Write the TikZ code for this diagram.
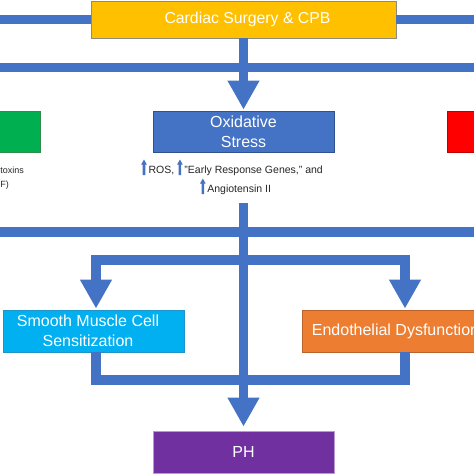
\documentclass[tikz,border=0pt]{standalone}
\usepackage{fontspec}
\setmainfont{Liberation Sans}
\usetikzlibrary{arrows.meta}
\definecolor{flow}{HTML}{4472C4}
\definecolor{cpbfill}{HTML}{FFC000}
\definecolor{cpbdraw}{HTML}{8C8C7A}
\definecolor{oxdraw}{HTML}{2F528F}
\definecolor{smcfill}{HTML}{00B0F0}
\definecolor{smcdraw}{HTML}{1E94C8}
\definecolor{endofill}{HTML}{ED7D31}
\definecolor{endodraw}{HTML}{B9622A}
\definecolor{phfill}{HTML}{7030A0}
\definecolor{phdraw}{HTML}{B89AD0}
\definecolor{gfill}{HTML}{00B050}
\definecolor{gdraw}{HTML}{2E8B4A}
\definecolor{rfill}{HTML}{FF0000}
\definecolor{rdraw}{HTML}{C00000}
\definecolor{smalltext}{HTML}{262626}
\newcommand{\uparw}{\tikz[x=1pt,y=1pt,baseline=0pt]{\fill[flow] (-1.3,-2) -- (1.3,-2) -- (1.3,8.5) -- (2.8,8.5) -- (0,13.5) -- (-2.8,8.5) -- (-1.3,8.5) -- cycle;}}
\begin{document}
\begin{tikzpicture}[x=1pt,y=-1pt,
  box/.style={draw, line width=0.8pt, text=white, align=center, inner sep=0pt},
  flowline/.style={draw=flow, line width=9.5pt, line join=miter},
  headarr/.style={-{Triangle[width=30pt,length=29pt]}},
  note/.style={text=smalltext, inner sep=0pt}]
\useasboundingbox (0,0) rectangle (474,474);
\clip (0,0) rectangle (474,474);
\fill[white] (0,0) rectangle (474,474);

% nodes
\node[box, fill=cpbfill, draw=cpbdraw, minimum width=305pt, minimum height=37pt,
      font=\fontsize{15.8}{18}\selectfont] (cpb) at (243.5,19.5) {\hspace*{8pt}Cardiac Surgery \& CPB};
\node[box, fill=flow, draw=oxdraw, minimum width=181pt, minimum height=41pt,
      font=\fontsize{16}{20}\selectfont] (ox) at (243.5,131.5) {Oxidative\\Stress};
\node[box, fill=gfill, draw=gdraw, minimum width=90pt, minimum height=41pt] (green) at (-5,131.5) {};
\node[box, fill=rfill, draw=rdraw, minimum width=90pt, minimum height=41pt] (red) at (492,131.5) {};
\node[box, fill=smcfill, draw=smcdraw, minimum width=181pt, minimum height=42pt,
      font=\fontsize{16}{20}\selectfont] (smc) at (93.5,331) {Smooth Muscle Cell\hspace*{11pt}\\Sensitization\hspace*{11pt}};
\node[box, fill=endofill, draw=endodraw, minimum width=187pt, minimum height=42pt,
      font=\fontsize{16}{19}\selectfont] (endo) at (395.5,331) {Endothelial Dysfunction};
\node[box, fill=phfill, draw=phdraw, minimum width=181pt, minimum height=42pt,
      font=\fontsize{16}{19}\selectfont] (ph) at (243.5,452) {PH};

% small texts
\node[note, anchor=base east, font=\fontsize{9}{11}\selectfont] (lt1) at (24,173) {otoxins};
\node[note, anchor=base east, font=\fontsize{9}{11}\selectfont] (lt2) at (9,187) {F)};
\node[note, anchor=base, font=\fontsize{10.5}{13}\selectfont] (ct1) at (232,173) {\uparw\,ROS, \uparw\,"Early Response Genes," and};
\node[note, anchor=base, font=\fontsize{10.5}{13}\selectfont] (ct2) at (235.5,192) {\uparw\,Angiotensin II};

% free ends
\coordinate (l1w) at (-5,19.5);
\coordinate (l1e) at (479,19.5);
\coordinate (l2w) at (-5,67.5);
\coordinate (l2e) at (479,67.5);
\coordinate (l3w) at (-5,232);
\coordinate (l3e) at (479,232);
\coordinate (c2) at (243.5,203);
\coordinate (hub) at (243.5,260);
\coordinate (bl) at (96,260);
\coordinate (br) at (405,260);
\coordinate (ml) at (96,380);
\coordinate (mr) at (405,380);

% connectors
\draw[flowline] (l1w) -- (cpb.west);
\draw[flowline] (cpb.east) -- (l1e);
\draw[flowline] (l2w) -- (l2e);
\draw[flowline] (l3w) -- (l3e);
\draw[flowline, headarr] (cpb.south) -- ([yshift=1pt]ox.north);
\draw[flowline, headarr] (c2) -- ([yshift=4pt]ph.north);
\draw[flowline, headarr] (hub) -- (bl) -- ([yshift=1pt]bl |- smc.north);
\draw[flowline, headarr] (hub) -- (br) -- ([yshift=1pt]br |- endo.north);
\draw[flowline] (bl |- smc.south) -- (ml) -- (mr) -- (br |- endo.south);
\end{tikzpicture}
\end{document}
